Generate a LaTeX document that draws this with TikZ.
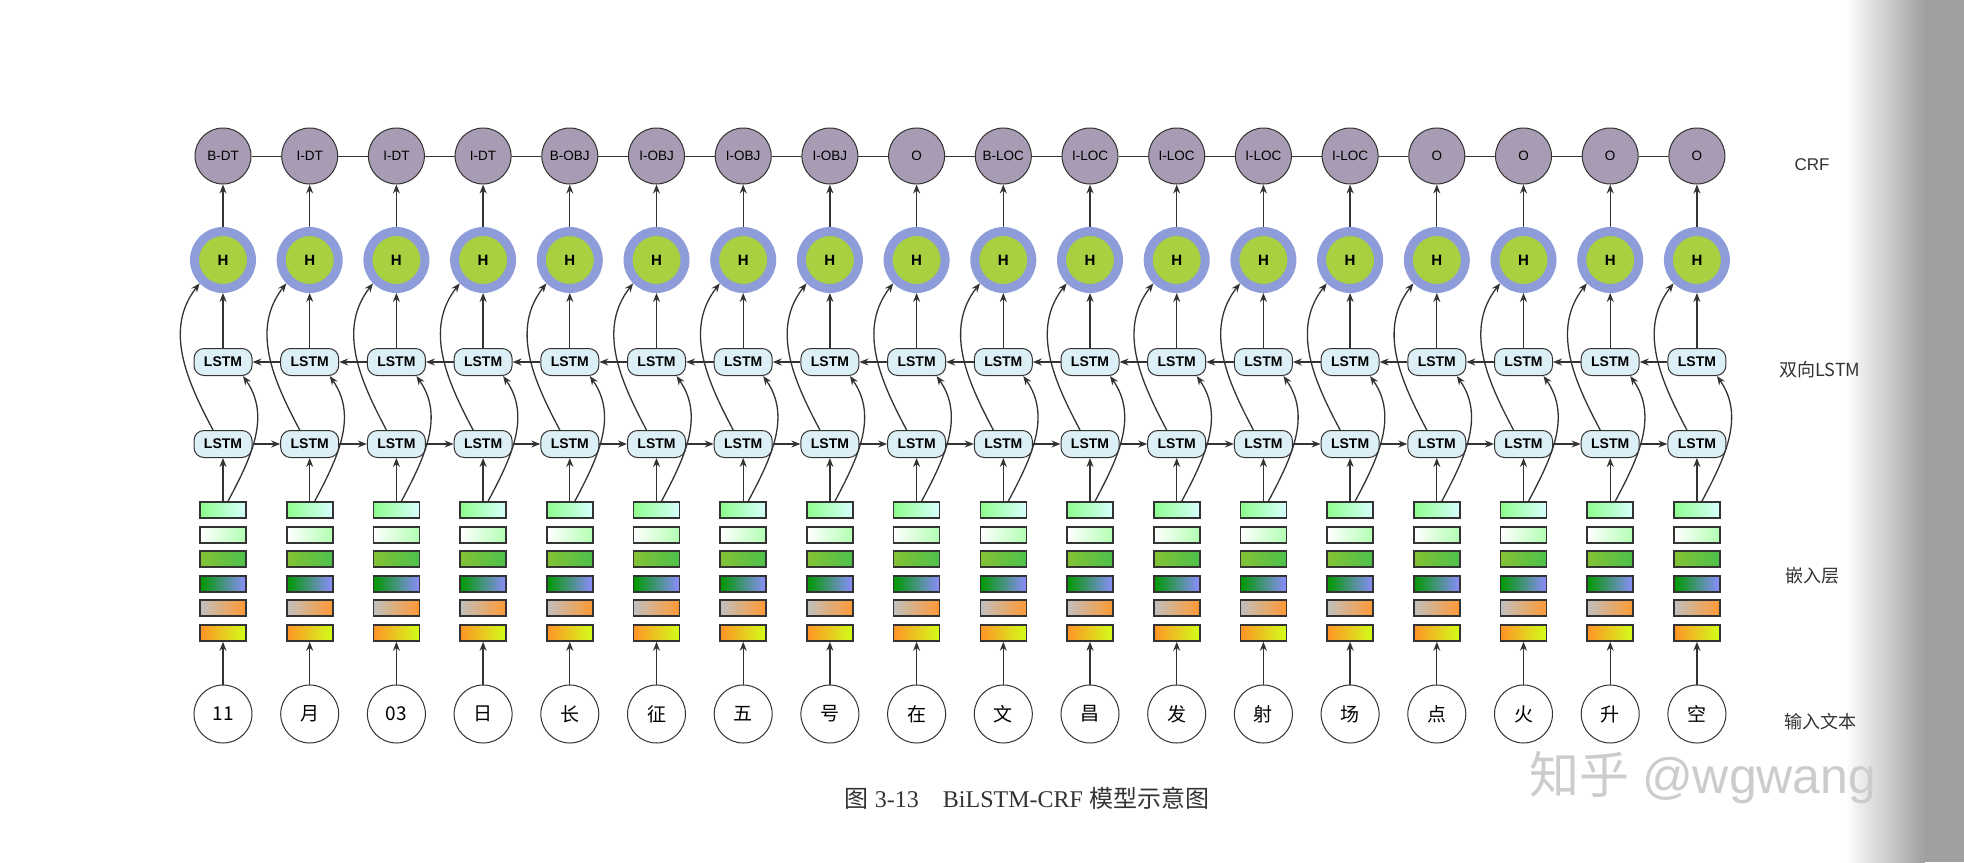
\documentclass[tikz,border=0pt]{standalone}
\usepackage{fontspec}
\setmainfont{Liberation Serif}
\setsansfont{Liberation Sans}
\newfontfamily\cjk{Noto Sans CJK SC}
\usetikzlibrary{arrows.meta,shapes.geometric}
\definecolor{ink}{HTML}{333333}
\definecolor{crff}{HTML}{A89CB4}
\definecolor{hout}{HTML}{8E9CDA}
\definecolor{hin}{HTML}{A8D040}
\definecolor{lstmf}{HTML}{DCEEF6}
\tikzset{
 crfnode/.style={circle,draw=ink,line width=1pt,fill=crff,minimum size=56pt,inner sep=0pt,font=\sffamily\fontsize{13.5}{13.5}\selectfont},
 hnode/.style={circle,draw=hout,line width=9pt,fill=hin,minimum size=57pt,inner sep=0pt,font=\sffamily\bfseries\fontsize{15}{15}\selectfont},
 lstmbox/.style={rounded corners=10pt,draw=ink,line width=1pt,fill=lstmf,minimum width=58pt,minimum height=27pt,inner sep=0pt,font=\sffamily\bfseries\fontsize{14}{14}\selectfont},
 bar/.style={draw=ink,line width=1.6pt,minimum width=46pt,minimum height=16pt,inner sep=0pt},
 inode/.style={circle,draw=ink,line width=1pt,fill=white,minimum size=58pt,inner sep=0pt,font=\cjk\fontsize{19}{19}\selectfont},
 conn/.style={draw=ink,line width=1.3pt,-{Stealth[length=9pt,width=7pt]}},
 lab/.style={font=\cjk\fontsize{18}{18}\selectfont,text=ink},
}
\begin{document}
\begin{tikzpicture}[x=1pt,y=-1pt]
\useasboundingbox (0,0) rectangle (1964,862);
\fill[white] (0,0) rectangle (1964,862);
\shade[left color=white,right color=gray!75] (1845,0) rectangle (1925,862);
\fill[gray!75] (1925,0) rectangle (1964,862);
\foreach \lab [count=\i] in {B-DT,I-DT,I-DT,I-DT,B-OBJ,I-OBJ,I-OBJ,I-OBJ,O,B-LOC,I-LOC,I-LOC,I-LOC,I-LOC,O,O,O,O}{
  \pgfmathsetmacro{\x}{223+86.7*(\i-1)}
  \node[crfnode] (c\i) at (\x,156) {\lab};
  \node[hnode] (h\i) at (\x,260) {H};
  \node[lstmbox] (b\i) at (\x,362) {LSTM};
  \node[lstmbox] (f\i) at (\x,444) {LSTM};
  \node[bar,left color=green!45!white,right color=cyan!15!white] (e\i) at (\x,510) {};
  \node[bar,left color=white,right color=green!30!white] at (\x,535) {};
  \node[bar,left color=green!50!black!60!yellow!80,right color=green!65!black!70!white] at (\x,559) {};
  \node[bar,left color=green!60!black,right color=blue!45!white] at (\x,584) {};
  \node[bar,left color=gray!50,right color=orange!80] at (\x,608) {};
  \node[bar,left color=orange!85,right color=yellow!80!green!90] (g\i) at (\x,633) {};
}
\foreach \t [count=\i] in {11,月,03,日,长,征,五,号,在,文,昌,发,射,场,点,火,升,空}{
  \pgfmathsetmacro{\x}{223+86.7*(\i-1)}
  \node[inode] (t\i) at (\x,714) {\t};
}
\foreach \i in {1,...,18}{
  \draw[conn] (h\i) -- (c\i);
  \draw[conn] (b\i) -- (h\i);
  \draw[conn] (e\i) -- (f\i);
  \draw[conn] (t\i) -- (g\i);
  \draw[conn] ([xshift=-10pt]f\i.north) to[out=118,in=232] (h\i.-135);
  \draw[conn] ([xshift=5pt]e\i.north) to[out=62,in=-55] (b\i.-35);
}
\foreach \i [evaluate=\i as \j using int(\i+1)] in {1,...,17}{
  \draw[draw=ink,line width=1pt] (c\i) -- (c\j);
  \draw[conn] (f\i) -- (f\j);
  \draw[conn] (b\j) -- (b\i);
}
\node[lab,font=\sffamily\fontsize{17}{17}\selectfont] (l1) at (1812,165) {CRF};
\node[lab] (l2) at (1820,370) {双向LSTM};
\node[lab] (l3) at (1812,576) {嵌入层};
\node[lab] (l4) at (1820,722) {输入文本};
\node[font=\fontsize{24}{24}\selectfont,text=ink] (cap) at (1027,798) {{\cjk 图} 3-13\quad BiLSTM-CRF {\cjk 模型示意图}};
\node[font=\fontsize{50}{50}\selectfont,text=gray!40] (wm) at (1703,778) {{\cjk 知乎} \sffamily @wgwang};
\end{tikzpicture}
\end{document}
